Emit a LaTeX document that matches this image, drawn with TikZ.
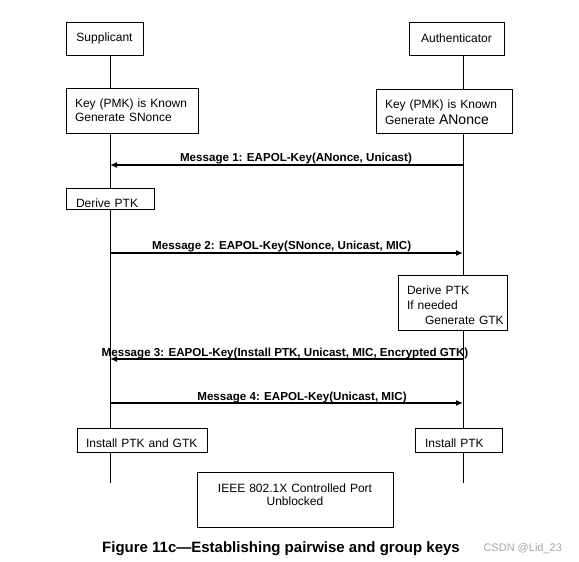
\documentclass[tikz,border=0pt]{standalone}
\usepackage{fontspec}
\setmainfont{Liberation Sans}
\usetikzlibrary{arrows.meta}
\definecolor{markgray}{RGB}{165,165,165}
\tikzset{
  box/.style={draw, fill=white, line width=0.8pt, inner sep=0pt, font=\fontsize{12}{14}\selectfont},
  life/.style={line width=0.8pt},
  msg/.style={line width=2pt},
  msglabel/.style={anchor=base, font=\bfseries\fontsize{11.6}{14}\selectfont},
  tb/.style 2 args={text height=#1, text depth=#2}
}
\begin{document}
\begin{tikzpicture}[x=1pt, y=-1pt, >={Latex[length=7pt,width=6pt]}]
\useasboundingbox (0,0) rectangle (579,562);
\coordinate (stop) at (110,55);
\coordinate (sbot) at (110,483);
\coordinate (atop) at (463,55);
\coordinate (abot) at (463,483);
\draw[life] (stop)--(sbot);
\draw[life] (atop)--(abot);
\node[box, minimum width=77, minimum height=33] (sup) at (104.5,38.5) {Supplicant};
\node[box, minimum width=95, minimum height=33] (aut) at (456.5,38.5) {Authenticator};
\node[box, minimum width=132, minimum height=45, text width=114, align=left, tb={9pt}{15.4pt}] (skey) at (132,110.5)
  {\mbox{Key (PMK) is Known}\\Generate SNonce};
\node[box, minimum width=136, minimum height=44, text width=118, align=left, tb={9pt}{14pt},
  font=\fontsize{12}{15.5}\selectfont] (akey) at (444,111)
  {\mbox{Key (PMK) is Known}\\Generate {\fontsize{14}{14}\selectfont ANonce}};
\coordinate (s1) at (110,165);
\coordinate (a1) at (463,165);
\draw[msg,->] (a1)--(s1);
\node[msglabel] (m1) at (296,161.5) {Message 1: EAPOL-Key(ANonce, Unicast)};
\node[box, minimum width=88, minimum height=21, text width=68, align=left, tb={17.4pt}{0pt}] (sptk) at (110,198.5) {Derive PTK};
\coordinate (s2) at (110,253);
\coordinate (a2) at (463,253);
\draw[msg,->] (s2)--(a2);
\node[msglabel] (m2) at (281.7,249.5) {Message 2: EAPOL-Key(SNonce, Unicast, MIC)};
\node[box, minimum width=109, minimum height=55, text width=91, align=left, tb={9pt}{26pt},
  font=\fontsize{12}{15}\selectfont] (aptk) at (452.5,302.5)
  {Derive PTK\\If needed\\\hspace*{18pt}\mbox{Generate GTK}};
\coordinate (s3) at (110,359);
\coordinate (a3) at (463,359);
\draw[msg,->] (a3)--(s3);
\node[msglabel] (m3) at (285,356.5) {Message 3: EAPOL-Key(Install PTK, Unicast, MIC, Encrypted GTK)};
\coordinate (s4) at (110,403);
\coordinate (a4) at (463,403);
\draw[msg,->] (s4)--(a4);
\node[msglabel] (m4) at (302,400.5) {Message 4: EAPOL-Key(Unicast, MIC)};
\node[box, minimum width=130, minimum height=24, text width=112, align=left, tb={15.4pt}{0pt}] (sinst) at (142,440) {\mbox{Install PTK and GTK}};
\node[box, minimum width=87, minimum height=24, text width=67, align=left, tb={15.4pt}{0pt}] (ainst) at (458.5,440) {Install PTK};
\node[box, minimum width=196, minimum height=55, text width=176, align=center, tb={9pt}{23.4pt},
  font=\fontsize{12}{13}\selectfont] (port) at (295,499.5)
  {IEEE 802.1X Controlled Port\\Unblocked};
\node[anchor=base, font=\bfseries\fontsize{15}{18}\selectfont] (cap) at (281,552.5)
  {Figure 11c—Establishing pairwise and group keys};
\node[anchor=base west, text=markgray, font=\fontsize{11}{13}\selectfont] (mark) at (480,551) {CSDN @Lid\_23};
\end{tikzpicture}
\end{document}
